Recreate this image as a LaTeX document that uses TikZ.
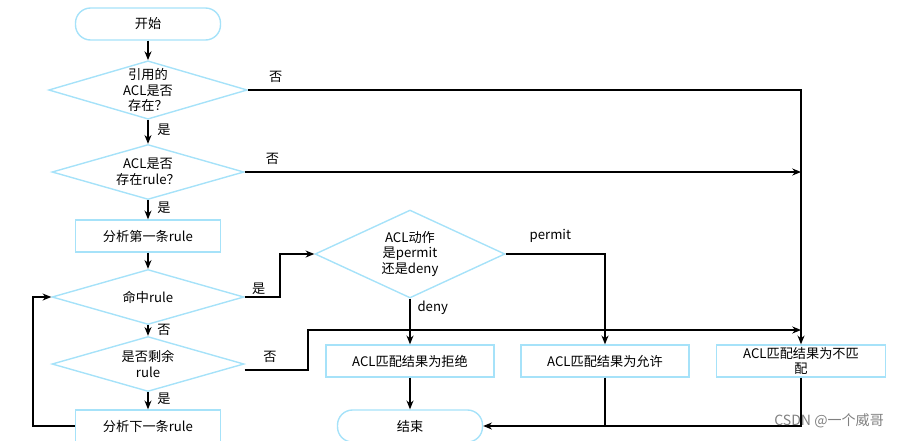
\documentclass[tikz,border=0pt]{standalone}
\usepackage{fontspec}
\setmainfont{Noto Sans CJK SC}
\usetikzlibrary{shapes.geometric,arrows.meta}
\begin{document}
\begin{tikzpicture}[x=0.02cm,y=-0.02cm,
  every node/.style={font=\fontsize{7.5}{9}\selectfont},
  box/.style={draw=cyan!35,thick,minimum height=0.64cm,align=center,inner sep=1pt},
  term/.style={box,rounded corners=0.3cm},
  dia/.style={draw=cyan!35,thick,diamond,aspect=3.4,align=center,inner sep=0pt},
  arr/.style={-{Stealth[length=5pt,width=4pt]},semithick},
  ln/.style={semithick},
  lab/.style={inner sep=1pt}]
\useasboundingbox (0,0) rectangle (905,440);
\node[term,minimum width=2.9cm] (st) at (148,24) {开始};
\node[dia,minimum width=3.84cm,minimum height=1.12cm] (d1) at (148,90) {引用的\\ACL是否\\存在？};
\node[dia,minimum width=3.84cm,minimum height=1.1cm] (d2) at (148,172) {ACL是否\\存在rule？};
\node[box,minimum width=2.9cm] (r1) at (148,236) {分析第一条rule};
\node[dia,minimum width=3.84cm,minimum height=1.1cm] (d3) at (148,297) {命中rule};
\node[dia,minimum width=3.84cm,minimum height=1.1cm] (d4) at (148,364) {是否剩余\\rule};
\node[box,minimum width=2.9cm] (r2) at (148,426) {分析下一条rule};
\node[dia,minimum width=3.8cm,minimum height=1.76cm,aspect=2.2] (da) at (410,254) {ACL动作\\是permit\\还是deny};
\node[box,minimum width=3.36cm] (rj) at (410,361) {ACL匹配结果为拒绝};
\node[box,minimum width=3.36cm] (al) at (605,361) {ACL匹配结果为允许};
\node[box,minimum width=3.38cm,text width=3.2cm] (nm) at (801,361) {ACL匹配结果为不匹\\配};
\node[term,minimum width=2.9cm] (en) at (410,426) {结束};
\coordinate (c1) at (801,90);
\coordinate (c2) at (801,172);
\coordinate (c3) at (280,297);
\coordinate (c4) at (280,254);
\coordinate (c5) at (308,370);
\coordinate (c6) at (308,330);
\coordinate (c7) at (801,330);
\coordinate (c8) at (33,426);
\coordinate (c9) at (33,297);
\coordinate (c10) at (605,254);
\coordinate (c11) at (605,426);
\coordinate (c12) at (801,426);
\draw[arr] (st) -- (d1);
\draw[arr] (d1) -- node[lab,right,pos=0.4,xshift=4pt]{是} (d2);
\draw[ln] (d1.east) -- node[lab,above,pos=0.05,yshift=3pt]{否} (c1) -- (c2);
\draw[arr] (c2) -- (nm.north);
\draw[arr] (d2.east) -- node[lab,above,pos=0.05,yshift=3pt]{否} (c2);
\draw[arr] (d2) -- node[lab,right,pos=0.4,xshift=4pt]{是} (r1);
\draw[arr] (r1) -- (d3);
\draw[arr] (d3.east) -- node[lab,above,pos=0.4]{是} (c3) -- (c4) -- (da.west);
\draw[arr] (d3) -- node[lab,right,pos=0.4,xshift=4pt]{否} (d4);
\draw[arr] (d4.east |- c5) -- node[lab,above,pos=0.4,yshift=3pt]{否} (c5) -- (c6) -- (c7);
\draw[arr] (d4) -- node[lab,right,pos=0.4,xshift=4pt]{是} (r2);
\draw[arr] (r2.west) -- (c8) -- (c9) -- (d3.west);
\draw[arr] (da.south) -- node[lab,right,pos=0.2,xshift=3pt]{deny} (rj.north);
\draw[arr] (da.east) -- node[lab,above,pos=0.45,yshift=5pt]{permit} (c10) -- (al.north);
\draw[arr] (rj) -- (en);
\draw[ln] (al.south) -- (c11);
\draw[arr] (nm.south) -- (c12) -- (en.east);
\node[text=gray,anchor=east,font=\fontsize{8}{9}\selectfont] (wm) at (890,421) {CSDN @一个威哥};
\end{tikzpicture}
\end{document}
